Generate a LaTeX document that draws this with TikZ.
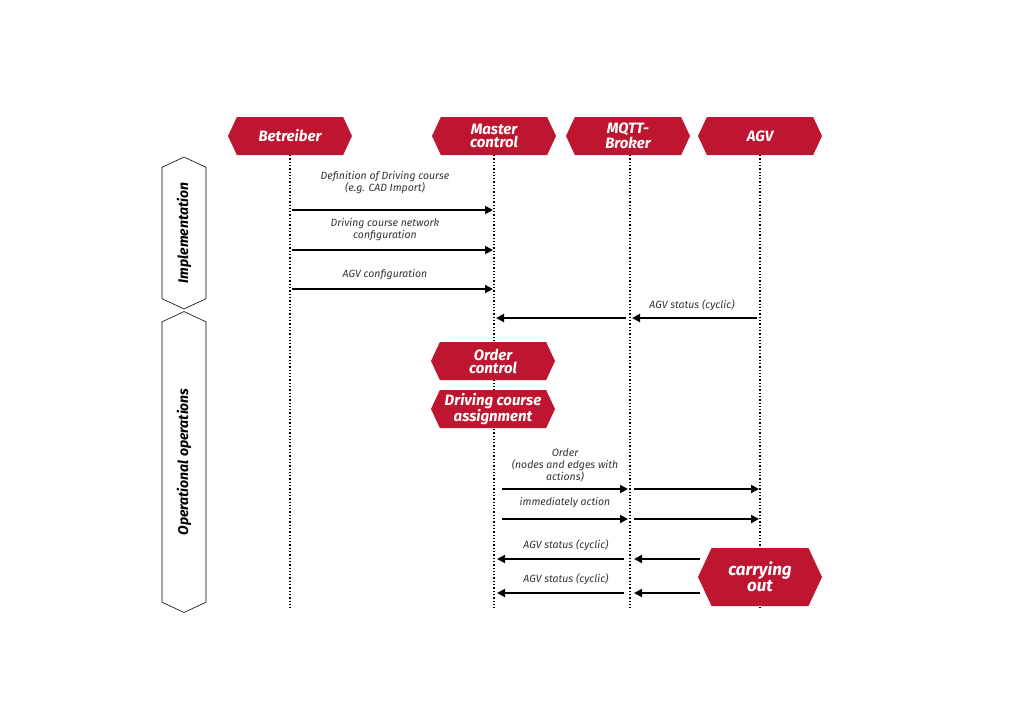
\documentclass[tikz,border=0pt]{standalone}
\usepackage{fontspec}
\setmainfont{Fira Sans}
\usepackage{tikz}
\usetikzlibrary{shapes.symbols, positioning, arrows.meta, calc}
\definecolor{vdared}{HTML}{BE1530}
\tikzset{
  actor/.style={signal, signal to=east and west, signal pointer angle=130, fill=vdared, draw=none,
    text=white, font=\bfseries\itshape\fontsize{15}{13}\selectfont, align=center,
    minimum width=124pt, minimum height=38pt, inner sep=1pt},
  phase/.style={signal, signal to=north and south, signal pointer angle=130, draw=black, fill=white,
    line width=0.6pt, minimum width=44pt, font=\bfseries\itshape\fontsize{14}{14}\selectfont, inner sep=2pt},
  life/.style={dotted, line width=1.3pt},
  msg/.style={-{Triangle[length=8pt,width=8pt]}, line width=1.8pt},
  lbl/.style={font=\itshape\fontsize{10.5}{12}\selectfont, text=black!80, align=center}
}
\begin{document}
\begin{tikzpicture}[x=1pt, y=-1pt]
\useasboundingbox (0,0) rectangle (1024,724);
% lifeline heads
\node[actor] (betreiber) at (290,136) {Betreiber};
\node[actor] (master) at (494,136) {Master\\control};
\node[actor] (broker) at (628,136) {MQTT-\\Broker};
\node[actor] (agv) at (760,136) {AGV};
\coordinate (betreiberend) at (290,610);
\coordinate (masterend) at (494,610);
\coordinate (brokerend) at (630,610);
\coordinate (agvend) at (760,610);
\draw[life] (290,155) -- (betreiberend);
\draw[life] (494,155) -- (masterend);
\draw[life] (630,155) -- (brokerend);
\draw[life] (760,155) -- (agvend);
% phases
\node[phase, minimum height=140pt] (impl) at (184,233) {\rotatebox{90}{Implementation}};
\node[phase, minimum height=289pt] (oper) at (184,462) {\rotatebox{90}{Operational operations}};
% implementation messages
\foreach \y/\name in {210/a, 250/b, 289/c} {
  \coordinate (s\name) at (292,\y);
  \coordinate (t\name) at (493,\y);
  \draw[msg] (s\name) -- (t\name);
}
\node[lbl] at (385,183) {Definition of Driving course\\(e.g. CAD Import)};
\node[lbl] at (385,230) {Driving course network\\configuration};
\node[lbl] at (385,275) {AGV configuration};
\coordinate (agvst) at (757,318);
\coordinate (brkin) at (632,318);
\coordinate (brkout) at (626,318);
\coordinate (mstin) at (496,318);
\draw[msg] (agvst) -- (brkin);
\draw[msg] (brkout) -- (mstin);
\node[lbl] at (692,305) {AGV status (cyclic)};
% operations
\node[actor] (order) at (493,361) {Order\\control};
\node[actor] (assign) at (493,409) {Driving course\\assignment};
\foreach \y/\name in {489/d, 519/e} {
  \coordinate (m\name) at (502,\y);
  \coordinate (b\name) at (628,\y);
  \coordinate (bo\name) at (634,\y);
  \coordinate (v\name) at (759,\y);
  \draw[msg] (m\name) -- (b\name);
  \draw[msg] (bo\name) -- (v\name);
}
\node[lbl] at (565,465) {Order\\(nodes and edges with\\actions)};
\node[lbl] at (565,503) {immediately action};
\foreach \y/\name in {559/f, 593/g} {
  \coordinate (v\name) at (700,\y);
  \coordinate (b\name) at (634,\y);
  \coordinate (bo\name) at (624,\y);
  \coordinate (m\name) at (497,\y);
  \draw[msg] (v\name) -- (b\name);
  \draw[msg] (bo\name) -- (m\name);
  \node[lbl] at (566,\y-14) {AGV status (cyclic)};
}
\node[actor, minimum height=58pt, font=\bfseries\itshape\fontsize{17}{16}\selectfont] (carry) at (760,577) {carrying\\out};
\end{tikzpicture}
\end{document}
